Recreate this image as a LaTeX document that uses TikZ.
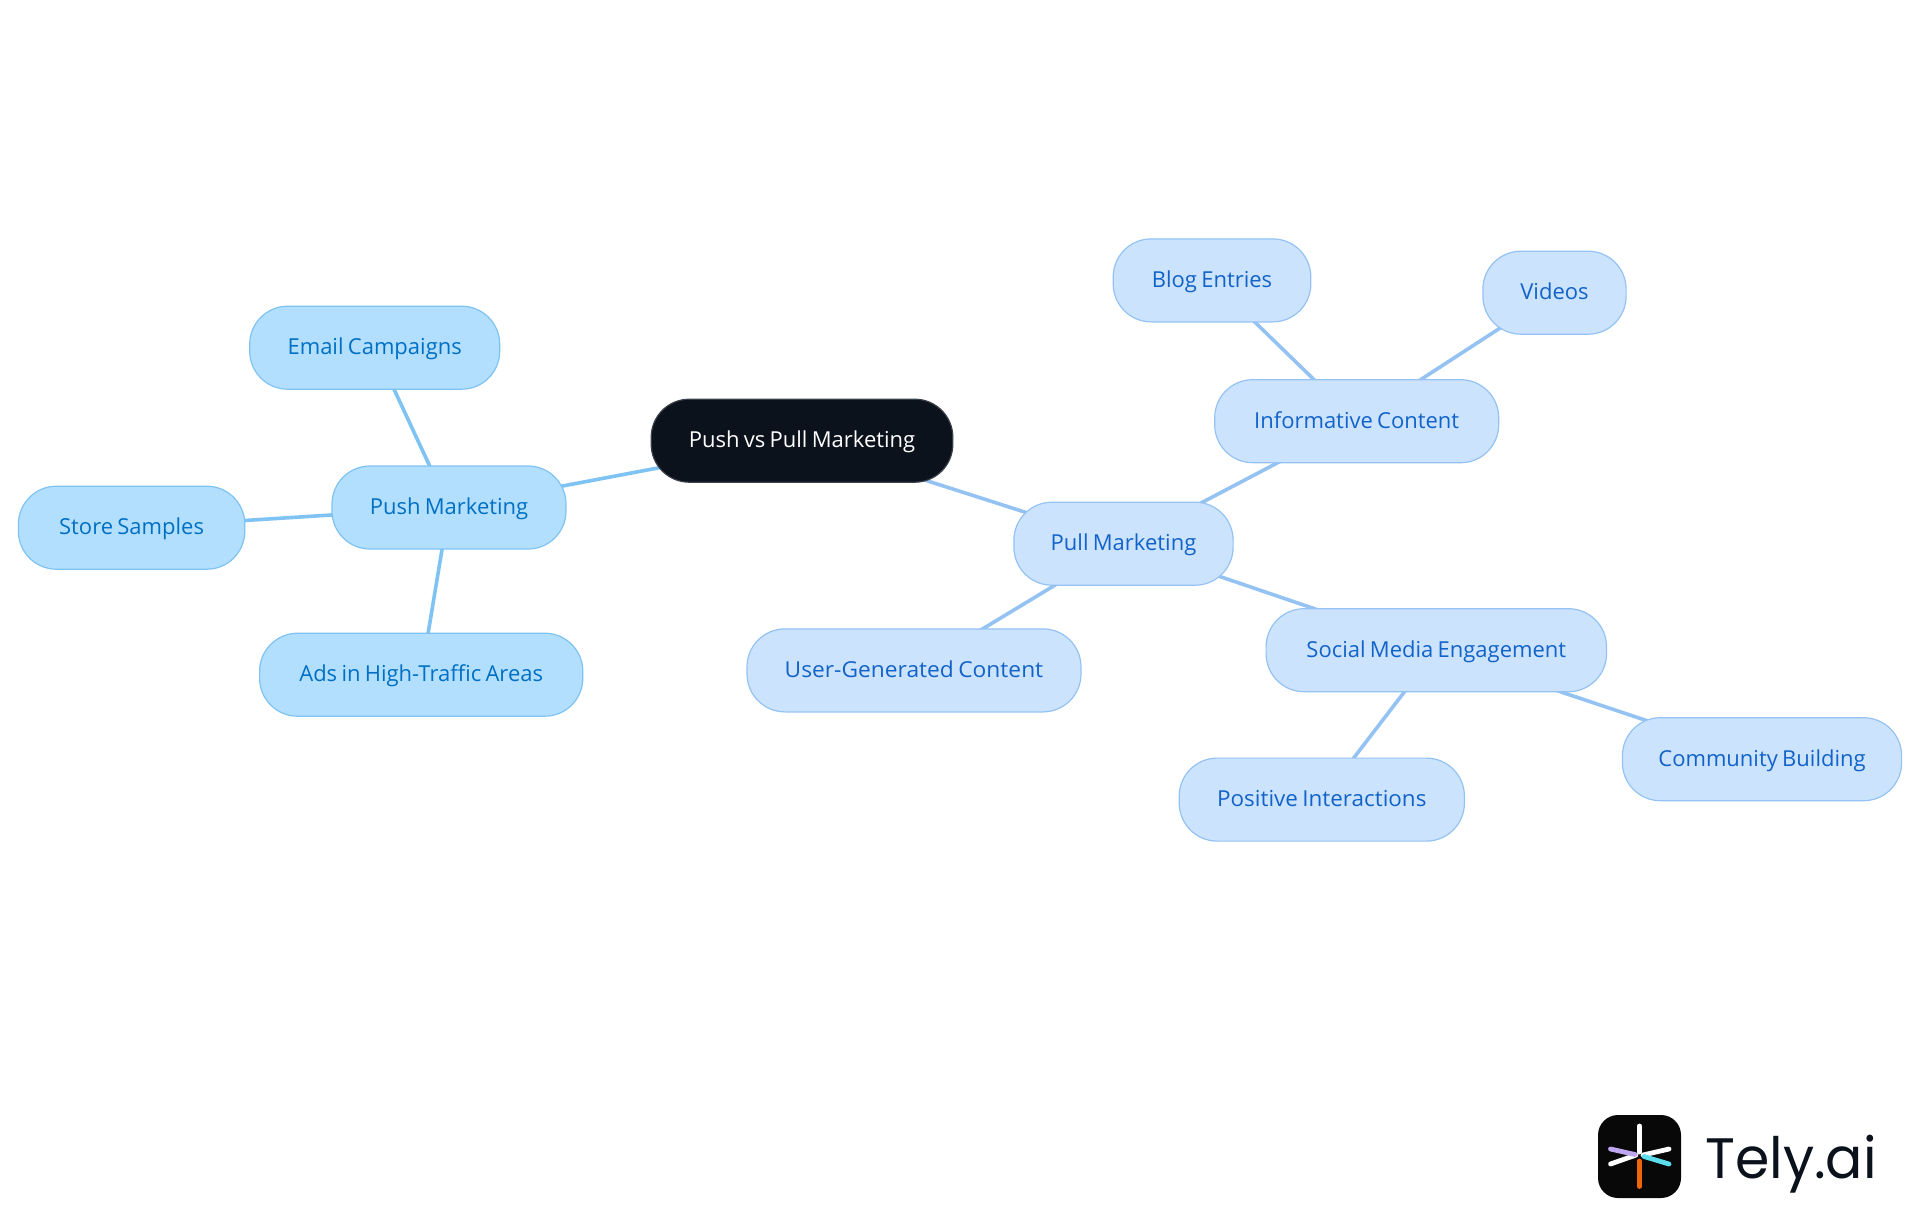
\documentclass[tikz,border=0pt]{standalone}
\usepackage{graphicx}
\usepackage{fontspec}
\setmainfont[WordSpace=0.75]{Open Sans}
\newfontfamily\logofont[FakeStretch=0.97]{Poppins}
\usetikzlibrary{backgrounds}
\definecolor{pushfill}{HTML}{B3DFFF}
\definecolor{pushline}{HTML}{7EC3F3}
\definecolor{pushtext}{HTML}{0070C4}
\definecolor{pullfill}{HTML}{CCE3FD}
\definecolor{pullline}{HTML}{94C3F3}
\definecolor{pulltext}{HTML}{1263C9}
\definecolor{rootfill}{HTML}{0B121B}
\definecolor{rootline}{HTML}{3A4048}
\tikzset{
  x=0.5pt,y=-0.5pt,
  mm/.style={rounded corners=19pt,line width=0.6pt,inner sep=0pt,minimum height=41.5pt,text height=8.6pt,text depth=1.8pt,font=\fontsize{11}{13}\selectfont},
  rootnode/.style={mm,fill=rootfill,draw=rootline,text=white},
  pushnode/.style={mm,fill=pushfill,draw=pushline,text=pushtext},
  pullnode/.style={mm,fill=pullfill,draw=pullline,text=pulltext},
  pushedge/.style={draw=pushline,line width=1.8pt},
  pulledge/.style={draw=pullline,line width=1.8pt},
  spoke/.style={line width=2.4pt,line cap=round}
}
\begin{document}
\begin{tikzpicture}
\useasboundingbox (0,0) rectangle (1920,1215);
\node[rootnode,minimum width=150.8pt] (root) at (802,440.7) {Push vs Pull Marketing};
\node[pushnode,minimum width=117pt] (push) at (449,507.5) {Push Marketing};
\node[pushnode,minimum width=125pt] (email) at (374.7,347.7) {Email Campaigns};
\node[pushnode,minimum width=113.2pt] (store) at (131.6,527.7) {Store Samples};
\node[pushnode,minimum width=161.6pt] (ads) at (421.2,674.7) {Ads in High-Traffic Areas};
\node[pullnode,minimum width=109.6pt] (pull) at (1123.5,543.7) {Pull Marketing};
\node[pullnode,minimum width=167pt] (ugc) at (914,670.4) {\scalebox{1.035}[1]{User-Generated Content}};
\node[pullnode,minimum width=142pt] (info) at (1356.7,421.2) {Informative Content};
\node[pullnode,minimum width=98.8pt] (blog) at (1212,280.4) {Blog Entries};
\node[pullnode,minimum width=71.6pt] (videos) at (1554.5,292.7) {Videos};
\node[pullnode,minimum width=170.2pt] (social) at (1436.3,650.2) {Social Media Engagement};
\node[pullnode,minimum width=142.6pt] (positive) at (1321.8,799.6) {\scalebox{1.02}[1]{Positive Interactions}};
\node[pullnode,minimum width=139.6pt] (community) at (1762,759.2) {Community Building};
\begin{scope}[on background layer]
\draw[pushedge] (root.center) -- (push.center);
\draw[pushedge] (push.center) -- (email.center);
\draw[pushedge] (push.center) -- (store.center);
\draw[pushedge] (push.center) -- (ads.center);
\draw[pulledge] (root.center) -- (pull.center);
\draw[pulledge] (pull.center) -- (ugc.center);
\draw[pulledge] (pull.center) -- (info.center);
\draw[pulledge] (pull.center) -- (social.center);
\draw[pulledge] (info.center) -- (blog.center);
\draw[pulledge] (info.center) -- (videos.center);
\draw[pulledge] (social.center) -- (positive.center);
\draw[pulledge] (social.center) -- (community.center);
\end{scope}
% logo
\fill[black!97!white,rounded corners=10pt] (1598,1115) rectangle (1681,1198);
\draw[spoke,white] (1636,1155) -- (1610.5,1164);
\draw[spoke,white] (1643,1155) -- (1669,1149);
\draw[spoke,white] (1639.3,1152) -- (1639.3,1126);
\draw[spoke,color={rgb,255:red,191;green,166;blue,240}] (1635,1154.5) -- (1610.5,1149);
\draw[spoke,color={rgb,255:red,92;green,221;blue,235}] (1644,1156.5) -- (1669,1164);
\draw[spoke,color={rgb,255:red,240;green,100;blue,10}] (1639.3,1161) -- (1639.3,1186.5);
\node[anchor=base west,inner sep=0pt,text=rootfill,font=\logofont\fontsize{28.5}{31}\selectfont] (logo) at (1705,1178) {Tely.ai};
\end{tikzpicture}
\end{document}
